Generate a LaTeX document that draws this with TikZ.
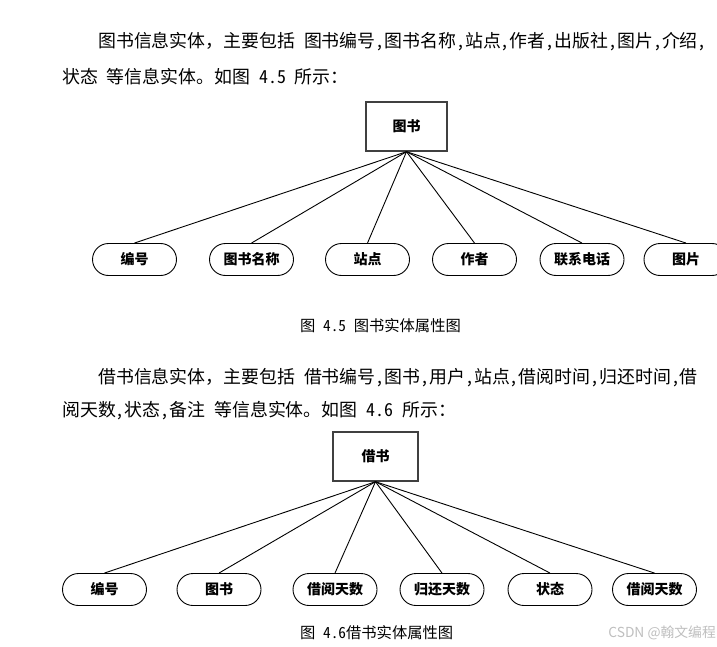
\documentclass[tikz,border=0pt]{standalone}
\usepackage{fontspec}
\setmainfont{Noto Sans CJK SC}[RawFeature=+hwid]
\newfontfamily\wmfont{Noto Sans CJK SC}
\newcommand\hs{\hspace{0.5em}}
\newcommand\fwc{{\wmfont ，}}
\begin{document}
\begin{tikzpicture}[x=1pt,y=-1pt,
  every node/.style={inner sep=0pt},
  entbox/.style={draw=black!75, line width=1.4pt, minimum width=81pt, minimum height=49pt, font=\fontsize{14}{16}\selectfont\bfseries},
  attr/.style={draw, line width=0.9pt, rounded corners=16pt, minimum width=84pt, minimum height=32pt, font=\fontsize{14}{16}\selectfont\bfseries},
  link/.style={line width=0.9pt},
  body/.style={anchor=west, font=\fontsize{17.9}{20}\selectfont},
  capt/.style={anchor=west, font=\fontsize{15.3}{18}\selectfont}]
\useasboundingbox (0,0) rectangle (717,647);
\fill[white] (0,0) rectangle (717,647);

% paragraph 1
\node[body] (p1a) at (98,42) {图书信息实体\fwc 主要包括\hs 图书编号,图书名称,站点,作者,出版社,图片,介绍,};
\node[body] (p1b) at (62,77) {状态\hs 等信息实体。如图\hs 4.5\hs 所示：};

% diagram 1
\node[entbox] (b1) at (406.5,126.5) {图书};
\node[attr] (a11) at (134.5,259.5) {编号};
\node[attr] (a12) at (251.5,259.5) {图书名称};
\node[attr] (a13) at (367.5,259.5) {站点};
\node[attr] (a14) at (474.5,259.5) {作者};
\node[attr] (a15) at (582,259.5) {联系电话};
\node[attr] (a16) at (686,259.5) {图片};
\foreach \n in {a11,a12,a13,a14,a15,a16}
  \draw[link] (b1.south) -- (\n.north);

\node[capt] (c1) at (300,326) {图\hs 4.5\hs 图书实体属性图};

% paragraph 2
\node[body] (p2a) at (98,378) {借书信息实体\fwc 主要包括\hs 借书编号,图书,用户,站点,借阅时间,归还时间,借};
\node[body] (p2b) at (62,411) {阅天数,状态,备注\hs 等信息实体。如图\hs 4.6\hs 所示：};

% diagram 2
\node[entbox, minimum width=85pt] (b2) at (375.5,456.5) {借书};
\node[attr] (a21) at (104.5,589.5) {编号};
\node[attr] (a22) at (219,589.5) {图书};
\node[attr] (a23) at (335,589.5) {借阅天数};
\node[attr] (a24) at (442,589.5) {归还天数};
\node[attr] (a25) at (550,589.5) {状态};
\node[attr] (a26) at (654.5,589.5) {借阅天数};
\foreach \n in {a21,a22,a23,a24,a25,a26}
  \draw[link] (b2.south) -- (\n.north);

\node[capt] (c2) at (300,633) {图\hs 4.6借书实体属性图};

\node[anchor=east, text=black!25, font=\wmfont\fontsize{13.8}{16}\selectfont] (wm) at (716,633) {CSDN @翰文编程};
\end{tikzpicture}
\end{document}
